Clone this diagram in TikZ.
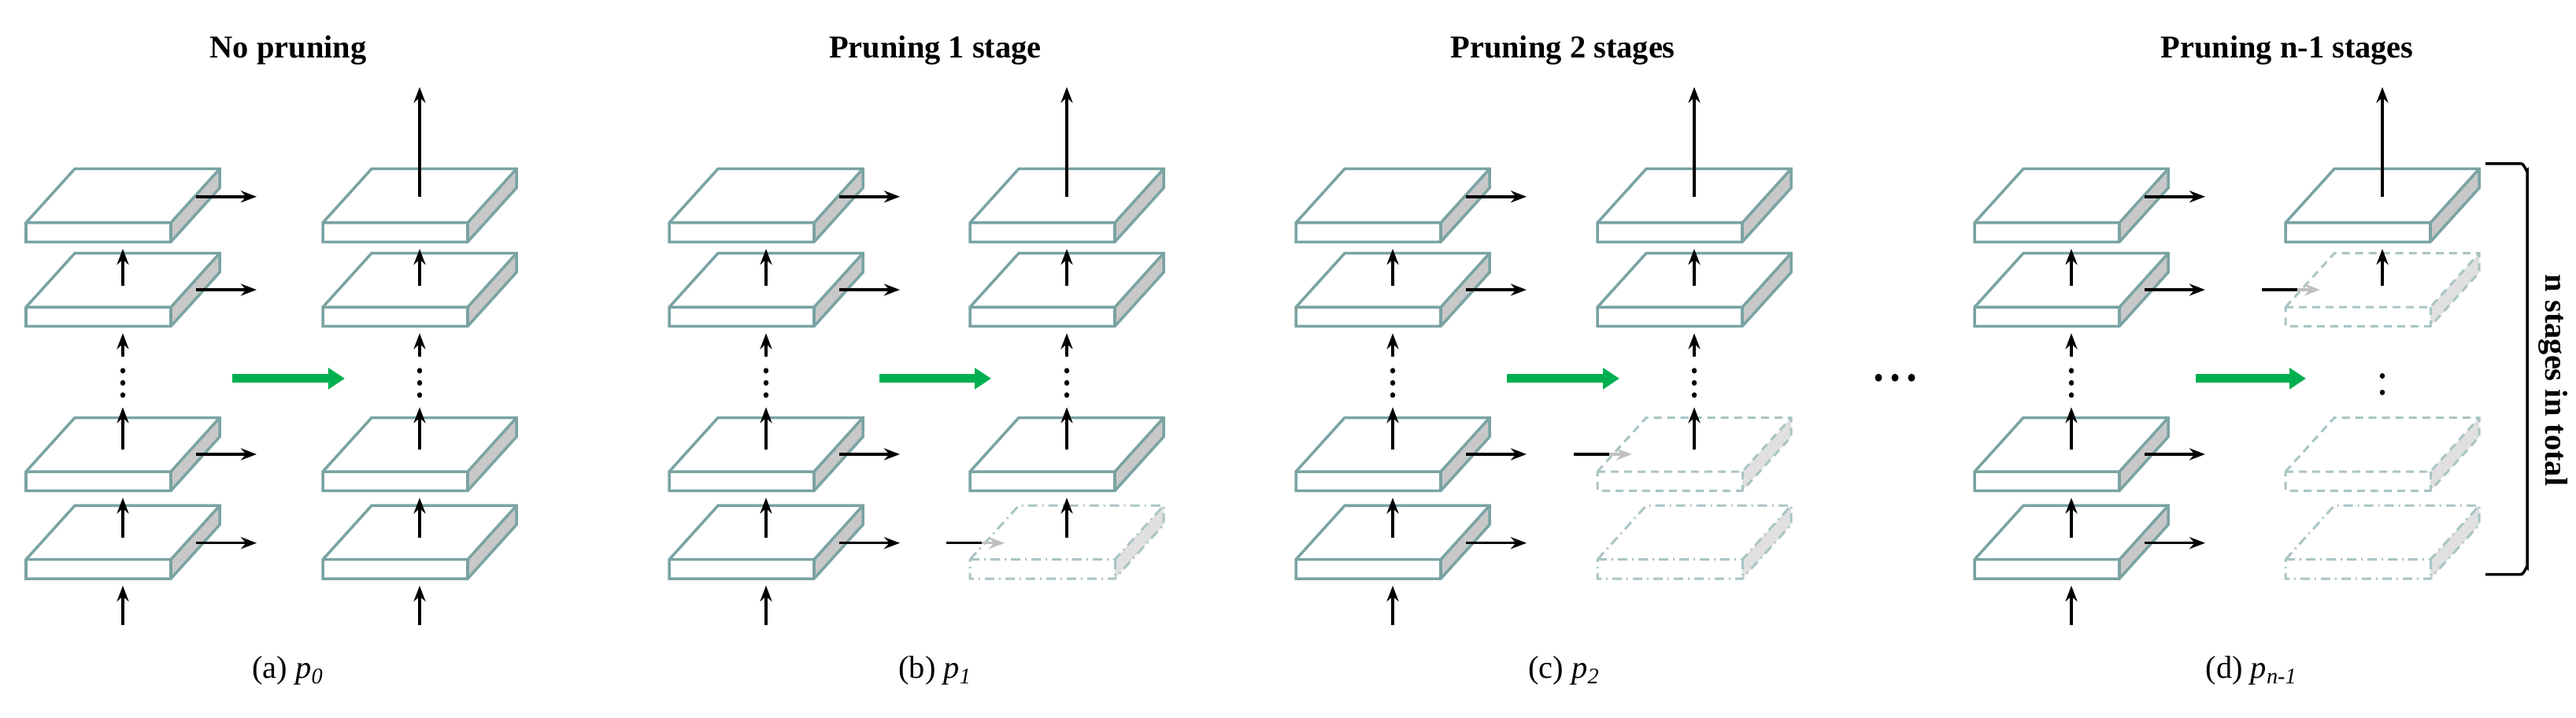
\documentclass[tikz,border=0pt]{standalone}
\usepackage{fontspec}
\setmainfont{Liberation Serif}
\usetikzlibrary{arrows.meta}
\definecolor{edge}{RGB}{122,163,163}
\definecolor{edgel}{RGB}{170,196,196}
\definecolor{sidec}{RGB}{200,200,200}
\definecolor{sidel}{RGB}{224,224,224}
\definecolor{grn}{RGB}{0,176,80}
\tikzset{
  solidslab/.style={draw=edge,line width=0.035cm,line join=miter},
  dashslab/.style={draw=edgel,line width=0.03cm,dash pattern=on 0.1cm off 0.07cm},
  dotslab/.style={draw=edgel,line width=0.03cm,dash pattern=on 0.12cm off 0.06cm on 0.02cm off 0.06cm},
  arr/.style={-{Stealth[length=0.2cm,width=0.15cm]},line width=0.035cm,black},
  grarrow/.style={-{Triangle[length=0.21cm,width=0.26cm]},line width=0.11cm,grn},
  ttl/.style={font=\fontsize{11.5}{13}\selectfont\bfseries},
  captxt/.style={font=\fontsize{11.5}{13}\selectfont}
}
% #1 name, #2 X, #3 Y, #4 side arrow y, #5 edge style, #6 side fill
\newcommand\myslab[6]{%
  \fill[#6] ({#2+184},{#3+62})--({#2+246},{#3})--({#2+246},{#3+22})--({#2+184},{#3+84})--cycle;
  \draw[#5] ({#2},{#3+62})--({#2+62},{#3})--({#2+246},{#3})--({#2+246},{#3+22})--({#2+184},{#3+84})--({#2},{#3+84})--cycle;
  \draw[#5] ({#2},{#3+62})--({#2+184},{#3+62})--({#2+246},{#3});
  \draw[#5] ({#2+184},{#3+62})--({#2+184},{#3+84});
  \coordinate (#1t) at ({#2+123},{#3+37});
  \coordinate (#1b) at ({#2+123},{#3+92});
  \coordinate (#1s) at ({#2+216},{#4});
  \coordinate (#1e) at ({#2+293},{#4});
  \coordinate (#1p) at ({#2-30},{#4});
  \coordinate (#1q) at ({#2+15},{#4});
  \coordinate (#1r) at ({#2+44},{#4});
}
\newcommand\leftcol[2]{%
  \myslab{#1a}{#2}{194}{226}{solidslab}{sidec}
  \myslab{#1b}{#2}{291}{333}{solidslab}{sidec}
  \myslab{#1c}{#2}{480}{522}{solidslab}{sidec}
  \myslab{#1d}{#2}{581}{624}{solidslab}{sidec}
  \foreach \s in {a,b,c,d} {\draw[arr] (#1\s s) -- (#1\s e);}
  \coordinate (#1in) at ({#2+123},718);
  \coordinate (#1dtop) at ({#2+123},410);
  \coordinate (#1dbot) at ({#2+123},468);
  \draw[arr] (#1in) -- (#1db);
  \draw[arr] (#1dt) -- (#1cb);
  \draw[arr] (#1ct) -- (#1dbot);
  \draw[arr] (#1dtop) -- (#1bb);
  \draw[arr] (#1bt) -- (#1ab);
  \fill ({#2+123},426) circle (3.2) ({#2+123},440) circle (3.2) ({#2+123},454) circle (3.2);
}
\begin{document}
\begin{tikzpicture}[x=0.01cm,y=-0.01105cm]
\useasboundingbox (0,0) rectangle (3272,824.4);
% ---------- (a)
\leftcol{A}{33}
\myslab{Ra}{410}{194}{226}{solidslab}{sidec}
\myslab{Rb}{410}{291}{333}{solidslab}{sidec}
\myslab{Rc}{410}{480}{522}{solidslab}{sidec}
\myslab{Rd}{410}{581}{624}{solidslab}{sidec}
\coordinate (Aout) at (533,100);
\coordinate (Ain2) at (533,718);
\coordinate (Adt) at (533,410); \coordinate (Adb) at (533,468);
\draw[arr] (Rat) ++(0,-5) -- (Aout);
\draw[arr] (Ain2) -- (Rdb);
\draw[arr] (Rdt) -- (Rcb);
\draw[arr] (Rct) -- (Adb);
\draw[arr] (Adt) -- (Rbb);
\draw[arr] (Rbt) -- (Rab);
\fill (533,426) circle (3.2) (533,440) circle (3.2) (533,454) circle (3.2);
\coordinate (Ag1) at (295,435); \coordinate (Ag2) at (438,435);
\draw[grarrow] (Ag1) -- (Ag2);
\node[ttl] (At) at (366,58) {No pruning};
\node[captxt] (Ac) at (366,771) {(a) \textit{p}\textsubscript{\textit{0}}};
% ---------- (b)
\leftcol{B}{850}
\myslab{Sa}{1232}{194}{226}{solidslab}{sidec}
\myslab{Sb}{1232}{291}{333}{solidslab}{sidec}
\myslab{Sc}{1232}{480}{522}{solidslab}{sidec}
\myslab{Sd}{1232}{581}{624}{dotslab}{sidel}
\coordinate (Bout) at (1355,100);
\coordinate (Bdt) at (1355,410); \coordinate (Bdb) at (1355,468);
\draw[arr] (Sat) ++(0,-5) -- (Bout);
\draw[arr] (Sdt) -- (Scb);
\draw[arr] (Sct) -- (Bdb);
\draw[arr] (Bdt) -- (Sbb);
\draw[arr] (Sbt) -- (Sab);
\draw[line width=0.035cm] (Sdp) -- (Sdq);
\draw[arr,draw=black!25] (Sdq) -- (Sdr);
\fill (1355,426) circle (3.2) (1355,440) circle (3.2) (1355,454) circle (3.2);
\coordinate (Bg1) at (1117,435); \coordinate (Bg2) at (1259,435);
\draw[grarrow] (Bg1) -- (Bg2);
\node[ttl] (Bt) at (1188,58) {Pruning 1 stage};
\node[captxt] (Bc) at (1188,771) {(b) \textit{p}\textsubscript{\textit{1}}};
% ---------- (c)
\leftcol{C}{1646}
\myslab{Ta}{2029}{194}{226}{solidslab}{sidec}
\myslab{Tb}{2029}{291}{333}{solidslab}{sidec}
\myslab{Tc}{2029}{480}{522}{dashslab}{sidel}
\myslab{Td}{2029}{581}{624}{dotslab}{sidel}
\coordinate (Cout) at (2152,100);
\coordinate (Cdt) at (2152,410); \coordinate (Cdb) at (2152,468);
\draw[arr] (Tat) ++(0,-5) -- (Cout);
\draw[arr] (Tct) -- (Cdb);
\draw[arr] (Cdt) -- (Tbb);
\draw[arr] (Tbt) -- (Tab);
\draw[line width=0.035cm] (Tcp) -- (Tcq);
\draw[arr,draw=black!25] (Tcq) -- (Tcr);
\fill (2152,426) circle (3.2) (2152,440) circle (3.2) (2152,454) circle (3.2);
\coordinate (Cg1) at (1914,435); \coordinate (Cg2) at (2057,435);
\draw[grarrow] (Cg1) -- (Cg2);
\node[ttl] (Ct) at (1985,58) {Pruning 2 stages};
\node[captxt] (Cc) at (1987,771) {(c) \textit{p}\textsubscript{\textit{2}}};
\fill (2386,434) circle (4.5) (2407,434) circle (4.5) (2428,434) circle (4.5);
% ---------- (d)
\leftcol{D}{2508}
\myslab{Ua}{2903}{194}{226}{solidslab}{sidec}
\myslab{Ub}{2903}{291}{333}{dashslab}{sidel}
\myslab{Uc}{2903}{480}{522}{dashslab}{sidel}
\myslab{Ud}{2903}{581}{624}{dotslab}{sidel}
\coordinate (Dout) at (3026,100);
\draw[arr] (Uat) ++(0,-5) -- (Dout);
\draw[arr] (Ubt) -- (Uab);
\draw[line width=0.035cm] (Ubp) -- (Ubq);
\draw[arr,draw=black!25] (Ubq) -- (Ubr);
\fill (3026,432) circle (3.2) (3026,451) circle (3.2);
\coordinate (Dg1) at (2789,435); \coordinate (Dg2) at (2929,435);
\draw[grarrow] (Dg1) -- (Dg2);
\node[ttl] (Dt) at (2905,58) {Pruning n-1 stages};
\node[captxt] (Dc) at (2860,771) {(d) \textit{p}\textsubscript{\textit{n-1}}};
\coordinate (K1) at (3157,188); \coordinate (K2) at (3157,660);
\draw[line width=0.035cm] (K1) -- (3202,188) to[out=0,in=-90] (3210,196) -- (3210,652) to[out=90,in=0] (3202,660) -- (K2);
\node[ttl,rotate=-90] (Dn) at (3243,437) {n stages in total};
\end{tikzpicture}
\end{document}
